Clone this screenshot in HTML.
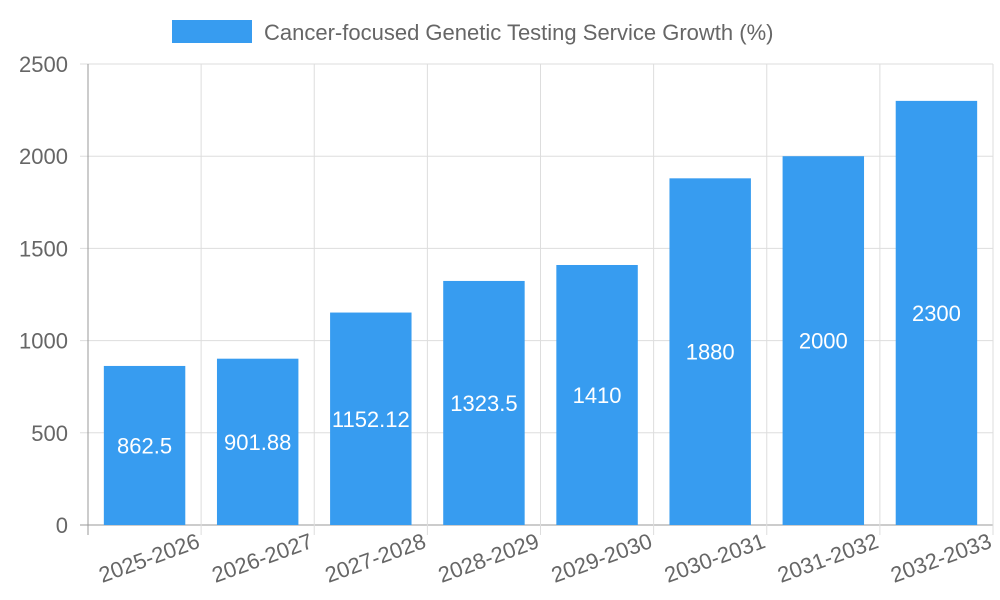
<!DOCTYPE html>
<html><head><meta charset="utf-8"><style>
body{margin:0;background:#fff;}
svg{display:block;font-family:"Liberation Sans",sans-serif;}
</style></head><body>
<svg id="chart" width="1000" height="600">
<g>
<rect x="172" y="20" width="80" height="23" fill="#379cf0"></rect>
<text x="264" y="40" font-size="22" fill="#666">Cancer-focused Genetic Testing Service Growth (%)</text>
</g>
<g id="grid"></g><g id="bars"></g><g id="axes"></g>
</svg>
<script>
const categories=["2025-2026","2026-2027","2027-2028","2028-2029","2029-2030","2030-2031","2031-2032","2032-2033"];
const values=[862.5,901.88,1152.12,1323.5,1410,1880,2000,2300];
const yTicks=[0,500,1000,1500,2000,2500];
const NS="http://www.w3.org/2000/svg";
const L=88,R=993,T=64,B=525,yMax=2500;
const bw=(R-L)/categories.length;
const y=v=>B-(v/yMax)*(B-T);
const x=i=>L+i*bw;
function mk(tag,attrs,parent,txt){const e=document.createElementNS(NS,tag);for(const k in attrs)e.setAttribute(k,attrs[k]);if(txt!==undefined)e.textContent=txt;document.getElementById(parent).appendChild(e);return e;}
yTicks.forEach(t=>{
const g=mk('line',{x1:80,x2:R,y1:y(t),y2:y(t),stroke:t===0?'#999':'#ddd','stroke-width':1},'grid');


const lb=mk('text',{x:68,y:y(t)+8,'text-anchor':'end','font-size':22,fill:'#666'},'axes',String(t));


});
for(let i=0;i<=categories.length;i++){
const g=mk('line',{x1:x(i),x2:x(i),y1:T,y2:B+10,stroke:i===0?'#999':'#ddd','stroke-width':1},'grid');


}
categories.forEach((c,i)=>{
const v=values[i];
const cx=x(i)+bw/2,w=bw*0.72;
const r=mk('rect',{x:cx-w/2,y:y(v),width:w,height:B-y(v),fill:'#379cf0'},'bars');


const vl=mk('text',{x:cx,y:(y(v)+B)/2+8,'text-anchor':'middle','font-size':22,fill:'#fff'},'bars',String(v));


const ex=x(i)+bw,ey=B+22;
const xl=mk('text',{x:ex,y:ey,'text-anchor':'end','font-size':22,fill:'#666',transform:`rotate(-20 ${ex} ${ey})`},'axes',c);


});
</script>
</body></html>
